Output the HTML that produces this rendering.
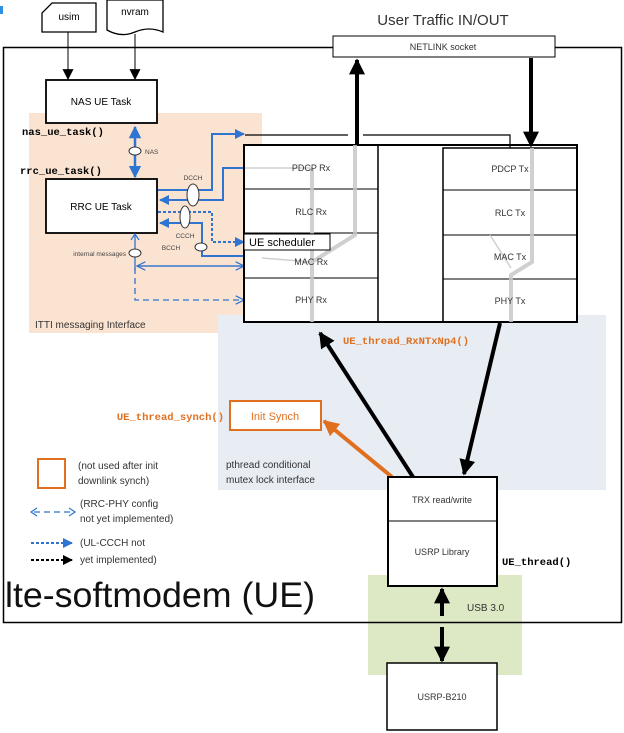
<!DOCTYPE html>
<html><head><meta charset="utf-8"><style>
html,body{margin:0;padding:0;background:#fff;width:624px;height:733px;overflow:hidden}
svg{display:block}
text{font-family:"Liberation Sans",sans-serif}
.m{font-family:"Liberation Mono",monospace;font-weight:bold}
</style></head><body>
<svg width="624" height="733" viewBox="0 0 624 733" xmlns="http://www.w3.org/2000/svg">
<defs>
<marker id="bl" viewBox="0 0 10 10" refX="9" refY="5" markerWidth="5" markerHeight="5" orient="auto"><path d="M0,0L10,5L0,10z" fill="#2f74d0"/></marker>
<marker id="bk" viewBox="0 0 10 10" refX="9" refY="5" markerWidth="4" markerHeight="4" orient="auto"><path d="M0,0L10,5L0,10z" fill="#000"/></marker>
<marker id="bkt" viewBox="0 0 10 10" refX="9" refY="5" markerWidth="11" markerHeight="11" orient="auto"><path d="M0,0L10,5L0,10z" fill="#000"/></marker>
<marker id="bks" viewBox="0 0 10 10" refX="9" refY="5" markerWidth="5" markerHeight="5" orient="auto"><path d="M0,0L10,5L0,10z" fill="#000"/></marker>
<marker id="ob" viewBox="0 0 10 10" refX="9" refY="5" markerWidth="4" markerHeight="4" orient="auto"><path d="M0,0L10,5L0,10z" fill="#e07020"/></marker>
<marker id="op" viewBox="0 0 10 10" refX="9" refY="5" markerWidth="8" markerHeight="8" orient="auto"><path d="M1,1L9,5L1,9" fill="none" stroke="#2f74d0" stroke-width="1.2"/></marker>
</defs>
<rect x="29" y="113" width="233" height="220" fill="#fbe3d1"/>
<rect x="218" y="315" width="388" height="175" fill="#e8edf4"/>
<rect x="368" y="575" width="154" height="100" fill="#dde8c4"/>
<rect x="3.5" y="47.5" width="618" height="575" fill="none" stroke="#000" stroke-width="1.5"/>
<rect x="0" y="6" width="3" height="8" fill="#2f8fe0"/>
<path d="M52,3H96V32H42V13z" fill="#fff" stroke="#000" stroke-width="1.3"/>
<text x="69" y="20" font-size="10" text-anchor="middle">usim</text>
<path d="M107,0H163V32Q149,26 135,32Q121,38 107,30z" fill="#fff" stroke="#000" stroke-width="1.3"/>
<text x="135" y="15" font-size="10" text-anchor="middle">nvram</text>
<line x1="68" y1="32" x2="68" y2="79" stroke="#000" marker-end="url(#bkt)"/>
<line x1="135" y1="34" x2="135" y2="79" stroke="#000" marker-end="url(#bkt)"/>
<rect x="46" y="80" width="111" height="43" fill="#fff" stroke="#000" stroke-width="1.8"/>
<text x="101" y="105" font-size="10" text-anchor="middle">NAS UE Task</text>
<rect x="46" y="179" width="111" height="54" fill="#fff" stroke="#000" stroke-width="1.8"/>
<text x="101" y="210" font-size="10" text-anchor="middle">RRC UE Task</text>
<text class="m" x="22" y="135" font-size="10.5">nas_ue_task()</text>
<text class="m" x="20" y="174" font-size="10.5">rrc_ue_task()</text>
<line x1="135" y1="150" x2="135" y2="127" stroke="#2f74d0" stroke-width="2.5" marker-end="url(#bl)"/>
<line x1="135" y1="152" x2="135" y2="177" stroke="#2f74d0" stroke-width="2.5" marker-end="url(#bl)"/>
<ellipse cx="135" cy="151" rx="6" ry="4" fill="#fff" stroke="#333"/>
<text x="145" y="154" font-size="6.5" fill="#444">NAS</text>
<path d="M158,190H212V134H244" fill="none" stroke="#2f74d0" stroke-width="2" marker-end="url(#bl)"/>
<path d="M245,168H223V200H160" fill="none" stroke="#2f74d0" stroke-width="2" marker-end="url(#bl)"/>
<ellipse cx="193" cy="195" rx="6" ry="11" fill="#fff" stroke="#333"/>
<text x="193" y="180" font-size="6.5" fill="#444" text-anchor="middle">DCCH</text>
<path d="M158,212H212V242H244" fill="none" stroke="#2f74d0" stroke-width="2" stroke-dasharray="3,2" marker-end="url(#bl)"/>
<path d="M245,256H202V223H160" fill="none" stroke="#2f74d0" stroke-width="2" marker-end="url(#bl)"/>
<ellipse cx="185" cy="217" rx="5" ry="11" fill="#fff" stroke="#333"/>
<text x="185" y="238" font-size="6.5" fill="#444" text-anchor="middle">CCCH</text>
<text x="171" y="250" font-size="6.5" fill="#444" text-anchor="middle">BCCH</text>
<ellipse cx="201" cy="247" rx="6" ry="4" fill="#fff" stroke="#333"/>
<line x1="135" y1="235" x2="135" y2="270" stroke="#2f74d0" stroke-width="1.3"/>
<path d="M131,240L135,234L139,240" fill="none" stroke="#2f74d0" stroke-width="1.2"/>
<line x1="137" y1="266" x2="244" y2="266" stroke="#2f74d0" stroke-width="1.3" marker-end="url(#op)"/>
<line x1="243" y1="266" x2="137" y2="266" stroke="#2f74d0" stroke-width="1.3" marker-end="url(#op)"/>
<path d="M135,268V300H244" fill="none" stroke="#2f74d0" stroke-width="1.3" stroke-dasharray="6,4" marker-end="url(#op)"/>
<ellipse cx="135" cy="253" rx="6" ry="4" fill="#fff" stroke="#333"/>
<text x="126" y="256" font-size="6.5" fill="#444" text-anchor="end">internal messages</text>
<text x="35" y="328" font-size="10" fill="#333">ITTI messaging Interface</text>
<text x="443" y="25" font-size="15" fill="#333" text-anchor="middle">User Traffic IN/OUT</text>
<rect x="333" y="36" width="222" height="21" fill="#fff" stroke="#000"/>
<text x="443" y="50" font-size="9" fill="#333" text-anchor="middle">NETLINK socket</text>
<rect x="244" y="145" width="333" height="177" fill="#fff" stroke="#000" stroke-width="2"/>
<path d="M245,135H348M363,135H510V148" fill="none" stroke="#000" stroke-width="1.2"/>
<rect x="244" y="145" width="134" height="177" fill="none" stroke="#000" stroke-width="1.5"/>
<rect x="443" y="148" width="134" height="174" fill="none" stroke="#000" stroke-width="1.5"/>
<path d="M244,189H378M244,233H378M244,278H378M443,190H577M443,235H577M443,279H577" stroke="#000" stroke-width="1"/>
<g fill="none" stroke="#c8c8c8" stroke-opacity="0.85">
<path d="M355,145V235L312,262" stroke-width="4"/>
<path d="M312,168V322" stroke-width="4"/>
<path d="M245,168H312" stroke-width="1.5"/>
<path d="M262,258L312,262" stroke-width="1.5"/>
<path d="M532,148V262L511,275V322" stroke-width="4"/>
<path d="M490,235L511,268" stroke-width="1.5"/>
</g>
<rect x="244" y="234" width="86" height="16" fill="#fff" stroke="#000"/>
<text x="249" y="246" font-size="11">UE scheduler</text>
<g font-size="9" fill="#333" text-anchor="middle">
<text x="311" y="171">PDCP Rx</text><text x="311" y="215">RLC Rx</text><text x="311" y="265">MAC Rx</text><text x="311" y="303">PHY Rx</text>
<text x="510" y="172">PDCP Tx</text><text x="510" y="216">RLC Tx</text><text x="510" y="260">MAC Tx</text><text x="510" y="304">PHY Tx</text>
</g>
<line x1="357" y1="144" x2="357" y2="60" stroke="#000" stroke-width="4" marker-end="url(#bk)"/>
<line x1="531" y1="58" x2="531" y2="146" stroke="#000" stroke-width="4" marker-end="url(#bk)"/>
<text class="m" x="343" y="344" font-size="10.5" fill="#e07020">UE_thread_RxNTxNp4()</text>
<line x1="413" y1="477" x2="320" y2="333" stroke="#000" stroke-width="4" marker-end="url(#bk)"/>
<line x1="500" y1="323" x2="464" y2="474" stroke="#000" stroke-width="4" marker-end="url(#bk)"/>
<line x1="392" y1="477" x2="324" y2="421" stroke="#e07020" stroke-width="4" marker-end="url(#ob)"/>
<rect x="230" y="401" width="91" height="29" fill="#fff" stroke="#e07020" stroke-width="2"/>
<text x="275" y="420" font-size="11" fill="#e07020" text-anchor="middle">Init Synch</text>
<text class="m" x="224" y="420" font-size="10.5" fill="#e07020" text-anchor="end">UE_thread_synch()</text>
<text x="226" y="468" font-size="10" fill="#333">pthread conditional</text>
<text x="226" y="483" font-size="10" fill="#333">mutex lock interface</text>
<rect x="388" y="477" width="109" height="109" fill="#fff" stroke="#000" stroke-width="2"/>
<line x1="388" y1="521" x2="497" y2="521" stroke="#000"/>
<text x="442" y="503" font-size="9" fill="#333" text-anchor="middle">TRX read/write</text>
<text x="442" y="555" font-size="9" fill="#333" text-anchor="middle">USRP Library</text>
<text class="m" x="502" y="565" font-size="10.5">UE_thread()</text>
<rect x="38" y="459" width="27" height="29" fill="none" stroke="#e07020" stroke-width="2"/>
<text x="78" y="469" font-size="10" fill="#333">(not used after init</text>
<text x="78" y="484" font-size="10" fill="#333">downlink synch)</text>
<line x1="34" y1="512" x2="72" y2="512" stroke="#2f74d0" stroke-width="1.3" stroke-dasharray="6,4"/>
<path d="M37,508L31,512L37,516M69,508L75,512L69,516" fill="none" stroke="#2f74d0" stroke-width="1.2"/>
<text x="80" y="507" font-size="10" fill="#333">(RRC-PHY config</text>
<text x="80" y="522" font-size="10" fill="#333">not yet implemented)</text>
<line x1="31" y1="543" x2="72" y2="543" stroke="#2f74d0" stroke-width="2" stroke-dasharray="3,2" marker-end="url(#bl)"/>
<line x1="31" y1="560" x2="72" y2="560" stroke="#000" stroke-width="2" stroke-dasharray="3,2" marker-end="url(#bks)"/>
<text x="80" y="546" font-size="10" fill="#333">(UL-CCCH not</text>
<text x="80" y="563" font-size="10" fill="#333">yet implemented)</text>
<text x="5" y="607" font-size="35" fill="#111" textLength="310" lengthAdjust="spacingAndGlyphs">lte-softmodem (UE)</text>
<text x="467" y="611" font-size="10" fill="#333">USB 3.0</text>
<line x1="442" y1="616" x2="442" y2="589" stroke="#000" stroke-width="4" marker-end="url(#bk)"/>
<line x1="442" y1="627" x2="442" y2="661" stroke="#000" stroke-width="4" marker-end="url(#bk)"/>
<rect x="387" y="663" width="110" height="67" fill="#fff" stroke="#000" stroke-width="1.5"/>
<text x="442" y="700" font-size="9" fill="#333" text-anchor="middle">USRP-B210</text>
</svg>
</body></html>
